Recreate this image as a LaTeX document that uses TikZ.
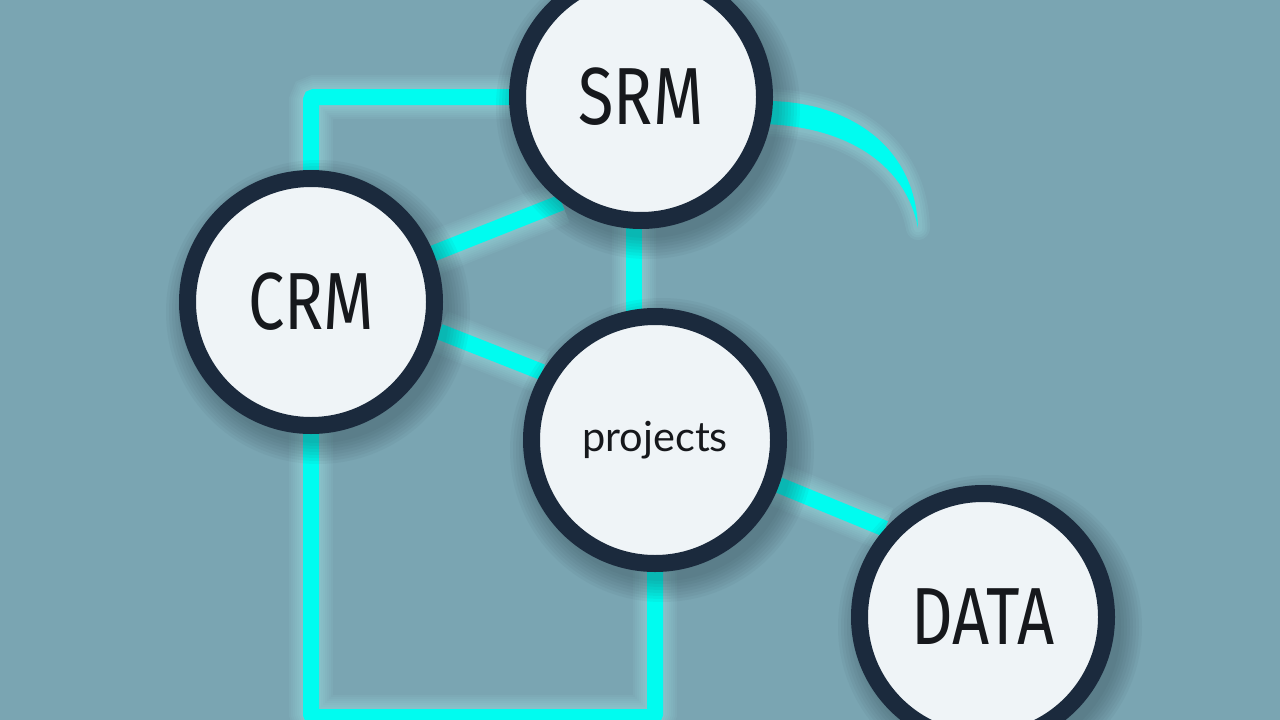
\documentclass[tikz,border=0pt]{standalone}
\usepackage{fontspec}
\usetikzlibrary{calc}
\newfontfamily\capfont[FakeStretch=0.8]{Fira Sans}
\newfontfamily\projfont{Lato}
\definecolor{bgc}{RGB}{122,165,178}
\definecolor{cyanc}{RGB}{0,252,240}
\definecolor{glowc}{RGB}{165,240,240}
\definecolor{ringc}{RGB}{27,42,61}
\definecolor{facec}{RGB}{239,244,247}
\definecolor{inkc}{RGB}{22,24,28}
\definecolor{shadc}{RGB}{40,60,70}
\newcommand\glowpath[1]{%
  \foreach \ww in {44,40,36,32,28,24,20}{%
    \draw[glowc,opacity=.07,line width=\ww pt,rounded corners=5pt] #1;}
  \draw[cyanc,line width=16pt,rounded corners=3pt] #1;}
\newcommand\softshade[1]{%
  \foreach \rr in {152,149,146,143,140,137,134,131}{%
    \fill[shadc,opacity=.05] ($(#1.center)+(7,10)$) circle (\rr);}}
\begin{document}
\begin{tikzpicture}[x=1pt,y=-1pt,
  place/.style={circle,line width=17pt,minimum size=247pt,inner sep=0pt},
  disc/.style={place,draw=ringc,fill=facec},
  capword/.style={font=\capfont\fontsize{81}{81}\selectfont,text=inkc},
  projword/.style={font=\projfont\fontsize{41.5}{41.5}\selectfont,text=inkc}]
\fill[bgc] (0,0) rectangle (1280,720);
\useasboundingbox (0,0) rectangle (1280,720);

% placement of the four discs (for the connectors)
\path node[place] (SRM) at (641,97) {}
      node[place] (CRM) at (311,302) {}
      node[place] (projects) at (655,440) {}
      node[place] (DATA) at (983,617) {};

\coordinate (v1) at (634,97);
\coordinate (bl) at (310,717);

% crescent arc on the right of SRM
\foreach \ww in {24,19,14,9}{%
\path[draw=glowc,opacity=.09,line width=\ww pt,line join=round]
  (760,101) .. controls (840,99) and (915,140) .. (918,228)
  .. controls (905,160) and (840,125) .. (760,124) -- cycle;}
\path[fill=cyanc]
  (760,101) .. controls (840,99) and (915,140) .. (918,228)
  .. controls (905,160) and (840,125) .. (760,124) -- cycle;

\glowpath{(SRM.center) -| (CRM.center)}
\glowpath{(CRM.center) -- (SRM.233)}
\glowpath{(v1) -- (v1 |- projects.center)}
\glowpath{(CRM.347) -- (projects.149)}
\glowpath{(projects.340) -- (DATA.138)}
\glowpath{(CRM.center) -- (CRM.center |- bl) -- (projects.center |- bl) -- (projects.center)}

% soft shadows
\softshade{SRM}
\softshade{CRM}
\softshade{projects}
\softshade{DATA}

% discs
\node[disc,capword] (SRM) at (641,97) {SRM};
\node[disc,capword] (CRM) at (311,302) {CRM};
\node[disc,projword] (projects) at (655,440) {projects};
\node[disc,capword] (DATA) at (983,617) {DATA};
\end{tikzpicture}
\end{document}
